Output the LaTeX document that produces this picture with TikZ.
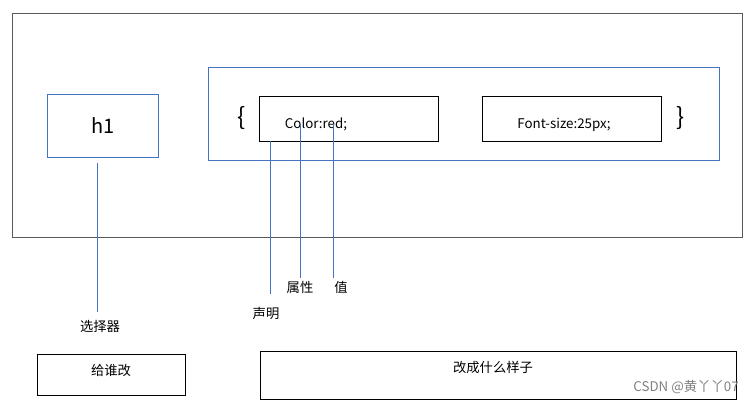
\documentclass[tikz,border=0pt]{standalone}
\usepackage{fontspec}
\setmainfont{Noto Sans CJK SC}
\definecolor{boxblue}{rgb}{0.27,0.45,0.77}
\definecolor{edgegray}{rgb}{0.35,0.35,0.35}
\tikzset{
  plain/.style={draw=black,line width=0.6pt},
  bluebox/.style={draw=boxblue,line width=0.7pt},
  link/.style={draw=boxblue,line width=0.5pt},
  lbl/.style={font=\fontsize{10}{12}\selectfont,inner sep=0pt}
}
\begin{document}
\begin{tikzpicture}[x=0.75pt,y=-0.75pt]
\useasboundingbox (0,0) rectangle (754,405);
\draw [draw=edgegray,line width=0.7pt] (12,13) rectangle (742,237);
\draw [bluebox] (47,94) rectangle (158,157);
\node [lbl,font=\fontsize{15}{18}\selectfont] (h) at (103,126) {h1};
\draw [bluebox] (208,67) rectangle (719,160);
\node [lbl,font=\fontsize{18}{20}\selectfont] (lb) at (242,118) {\{};
\node [lbl,font=\fontsize{18}{20}\selectfont] (rb) at (681,118) {\}};
\draw [plain] (259,96) rectangle (438,141);
\node [lbl] (color) at (316,124) {Color:red;};
\draw [plain] (482,96) rectangle (661,141);
\node [lbl] (font) at (564,125) {Font-size:25px;};
% labels
\node [lbl] (sel) at (100,326) {选择器};
\node [lbl] (decl) at (266,313) {声明};
\node [lbl] (prop) at (300,287) {属性};
\node [lbl] (val) at (341,287) {值};
\coordinate (s0) at (97,163);
\coordinate (s1) at (97,312);
\coordinate (d0) at (270,141);
\coordinate (d1) at (270,294);
\coordinate (p0) at (300,124);
\coordinate (p1) at (300,278);
\coordinate (v0) at (333,124);
\coordinate (v1) at (333,278);
\draw [link] (s0) -- (s1);
\draw [link] (d0) -- (d1);
\draw [link] (p0) -- (p1);
\draw [link] (v0) -- (v1);
% bottom boxes
\draw [plain] (37,354) rectangle (185,395);
\node [lbl] (who) at (111,370) {给谁改};
\draw [plain] (260,351) rectangle (736,399);
\node [lbl] (how) at (493,367) {改成什么样子};
\node [lbl,text=gray,font=\fontsize{10}{12}\selectfont,anchor=east] (wm) at (739,387) {CSDN @黄丫丫07};
\end{tikzpicture}
\end{document}
